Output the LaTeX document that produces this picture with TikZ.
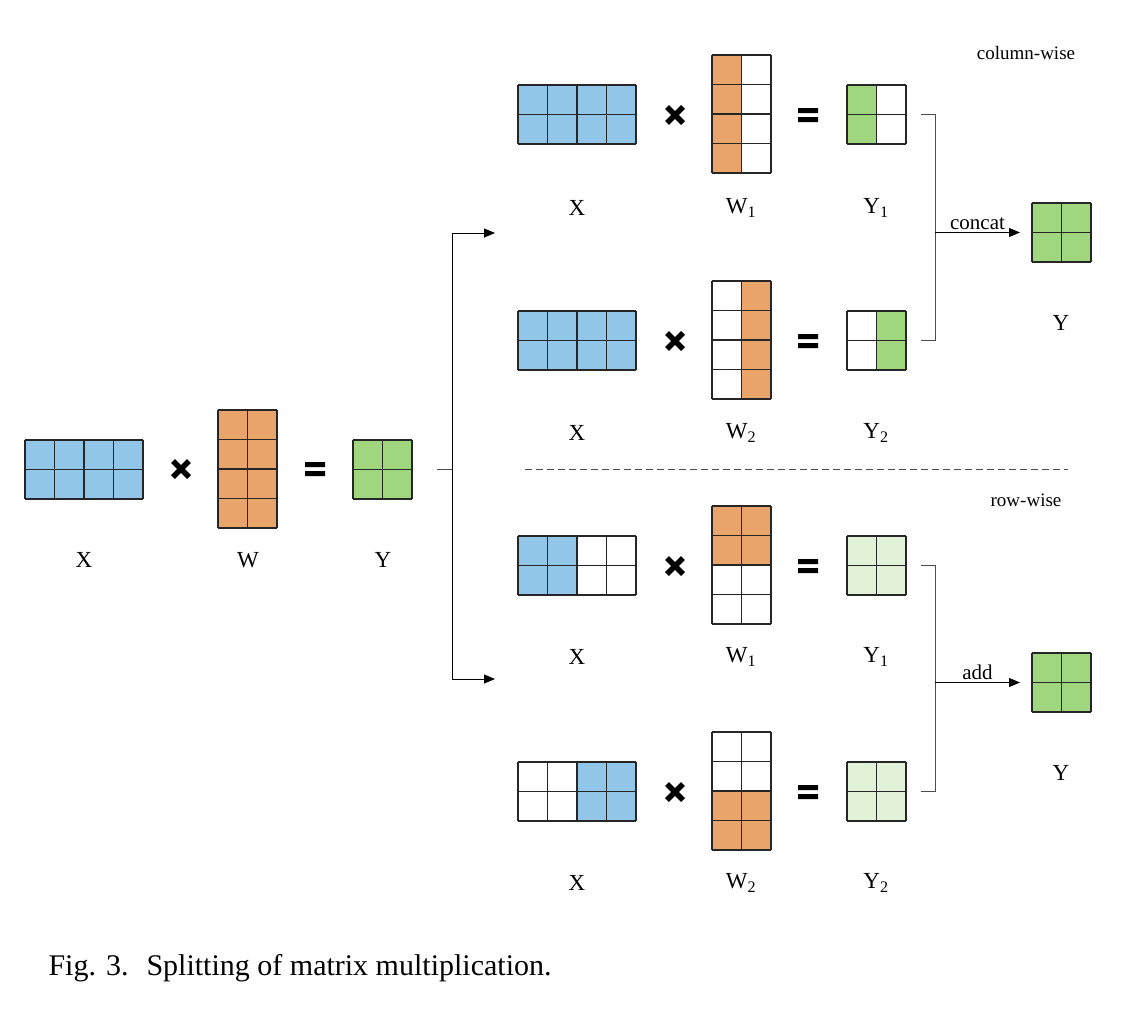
\documentclass[tikz,border=0pt]{standalone}
\usepackage{fontspec}
\setmainfont{Liberation Serif}
\usetikzlibrary{arrows.meta}
\definecolor{cb}{HTML}{92C6E8}
\definecolor{co}{HTML}{E8A46A}
\definecolor{cg}{HTML}{A0D67E}
\definecolor{cl}{HTML}{E2F2D8}
\tikzset{
 gl/.style={line width=1.3pt,black!85},
 lab/.style={font=\fontsize{23}{26}\selectfont},
 conn/.style={line width=1pt,black!70},
 arr/.style={conn,-{Triangle[length=11pt,width=9pt]},black},
 box/.style={inner sep=0pt,outer sep=0pt,minimum width=0pt,minimum height=0pt},
}
% \mgrid{name}{x}{ytop}{cols}{rows}
\newcommand\mgrid[5]{%
 \node[box,minimum width=#4*29.5pt,minimum height=#5*29.5pt,anchor=north west] (#1) at (#2,#3) {};
 \foreach \i in {0,...,#4}{\draw[gl] (#2+\i*29.5,#3) -- (#2+\i*29.5,#3+#5*29.5);}
 \foreach \j in {0,...,#5}{\draw[gl] (#2,#3+\j*29.5) -- (#2+#4*29.5,#3+\j*29.5);}
}
\newcommand\cellfill[7]{\fill[#1] (#2+#4*29.5,#3+#5*29.5) rectangle (#2+#6*29.5,#3+#7*29.5);}
\newcommand\timesop[2]{\draw[line width=5.5pt] (#1-8,#2-8) -- (#1+8,#2+8) (#1-8,#2+8) -- (#1+8,#2-8);}
\newcommand\eqop[2]{\fill (#1-10,#2-7) rectangle (#1+10,#2-2) (#1-10,#2+2) rectangle (#1+10,#2+7);}
\begin{document}
\begin{tikzpicture}[x=1pt,y=-1pt]
\useasboundingbox (0,0) rectangle (1134,1026);
% main
\cellfill{cb}{25}{440}{0}{0}{4}{2}\mgrid{X0}{25}{440}{4}{2}
\cellfill{co}{218}{410}{0}{0}{2}{4}\mgrid{W0}{218}{410}{2}{4}
\cellfill{cg}{353}{440}{0}{0}{2}{2}\mgrid{Y0}{353}{440}{2}{2}
\timesop{181}{469}\eqop{315}{469}
\node[lab] at (84,560) {X};\node[lab] at (248,560) {W};\node[lab] at (383,560) {Y};
% block 1
\cellfill{cb}{518}{85}{0}{0}{4}{2}\mgrid{X1}{518}{85}{4}{2}
\cellfill{co}{712}{55}{0}{0}{1}{4}\mgrid{W1}{712}{55}{2}{4}
\cellfill{cg}{847}{85}{0}{0}{1}{2}\mgrid{Y1}{847}{85}{2}{2}
\timesop{675}{115}\eqop{808}{115}
\node[lab] at (577,208) {X};\node[lab] at (741,208) {W\textsubscript{1}};\node[lab] at (876,208) {Y\textsubscript{1}};
% block 2
\cellfill{cb}{518}{311}{0}{0}{4}{2}\mgrid{X2}{518}{311}{4}{2}
\cellfill{co}{712}{281}{1}{0}{2}{4}\mgrid{W2}{712}{281}{2}{4}
\cellfill{cg}{847}{311}{1}{0}{2}{2}\mgrid{Y2}{847}{311}{2}{2}
\timesop{675}{341}\eqop{808}{341}
\node[lab] at (577,433) {X};\node[lab] at (741,433) {W\textsubscript{2}};\node[lab] at (876,433) {Y\textsubscript{2}};
% block 3
\cellfill{cb}{518}{536}{0}{0}{2}{2}\mgrid{X3}{518}{536}{4}{2}
\cellfill{co}{712}{506}{0}{0}{2}{2}\mgrid{W3}{712}{506}{2}{4}
\cellfill{cl}{847}{536}{0}{0}{2}{2}\mgrid{Y3}{847}{536}{2}{2}
\timesop{675}{566}\eqop{808}{566}
\node[lab] at (577,657) {X};\node[lab] at (741,657) {W\textsubscript{1}};\node[lab] at (876,657) {Y\textsubscript{1}};
% block 4
\cellfill{cb}{518}{762}{2}{0}{4}{2}\mgrid{X4}{518}{762}{4}{2}
\cellfill{co}{712}{732}{0}{2}{2}{4}\mgrid{W4}{712}{732}{2}{4}
\cellfill{cl}{847}{762}{0}{0}{2}{2}\mgrid{Y4}{847}{762}{2}{2}
\timesop{675}{792}\eqop{808}{792}
\node[lab] at (577,883) {X};\node[lab] at (741,883) {W\textsubscript{2}};\node[lab] at (876,883) {Y\textsubscript{2}};
% results
\cellfill{cg}{1032}{203}{0}{0}{2}{2}\mgrid{R1}{1032}{203}{2}{2}
\cellfill{cg}{1032}{653}{0}{0}{2}{2}\mgrid{R2}{1032}{653}{2}{2}
\node[lab] at (1061,323) {Y};\node[lab] at (1061,773) {Y};
% split connector
\coordinate (s) at ([xshift=40pt]Y0.east);
\coordinate (t1) at (495,233);\coordinate (t2) at (495,679);
\draw[conn] ([xshift=25pt]Y0.east) -- (s);
\draw[arr] (s) |- (t1);
\draw[arr] (s) |- (t2);
% brackets
\coordinate (b1) at ([xshift=-97pt]R1.west);\coordinate (b2) at ([xshift=-97pt]R2.west);
\draw[conn] ([xshift=15pt]Y1.east) -| (b1) |- ([xshift=15pt]Y2.east);
\draw[arr] (b1) -- node[above=-1pt,font=\fontsize{21}{24}\selectfont] {concat} ([xshift=-12pt]R1.west);
\draw[conn] ([xshift=15pt]Y3.east) -| (b2) |- ([xshift=15pt]Y4.east);
\draw[arr] (b2) -- node[above=-1pt,font=\fontsize{21}{24}\selectfont] {add} ([xshift=-12pt]R2.west);
% separator
\draw[conn,dash pattern=on 7pt off 4pt] (525,469) -- (1068,469);
\node[font=\fontsize{19}{22}\selectfont] at (1026,53) {column-wise};
\node[font=\fontsize{19}{22}\selectfont] at (1026,500) {row-wise};
\node[anchor=west,font=\fontsize{30}{34}\selectfont] at (45,968) {Fig. 3.\hspace{0.6em}Splitting of matrix multiplication.};
\end{tikzpicture}
\end{document}
